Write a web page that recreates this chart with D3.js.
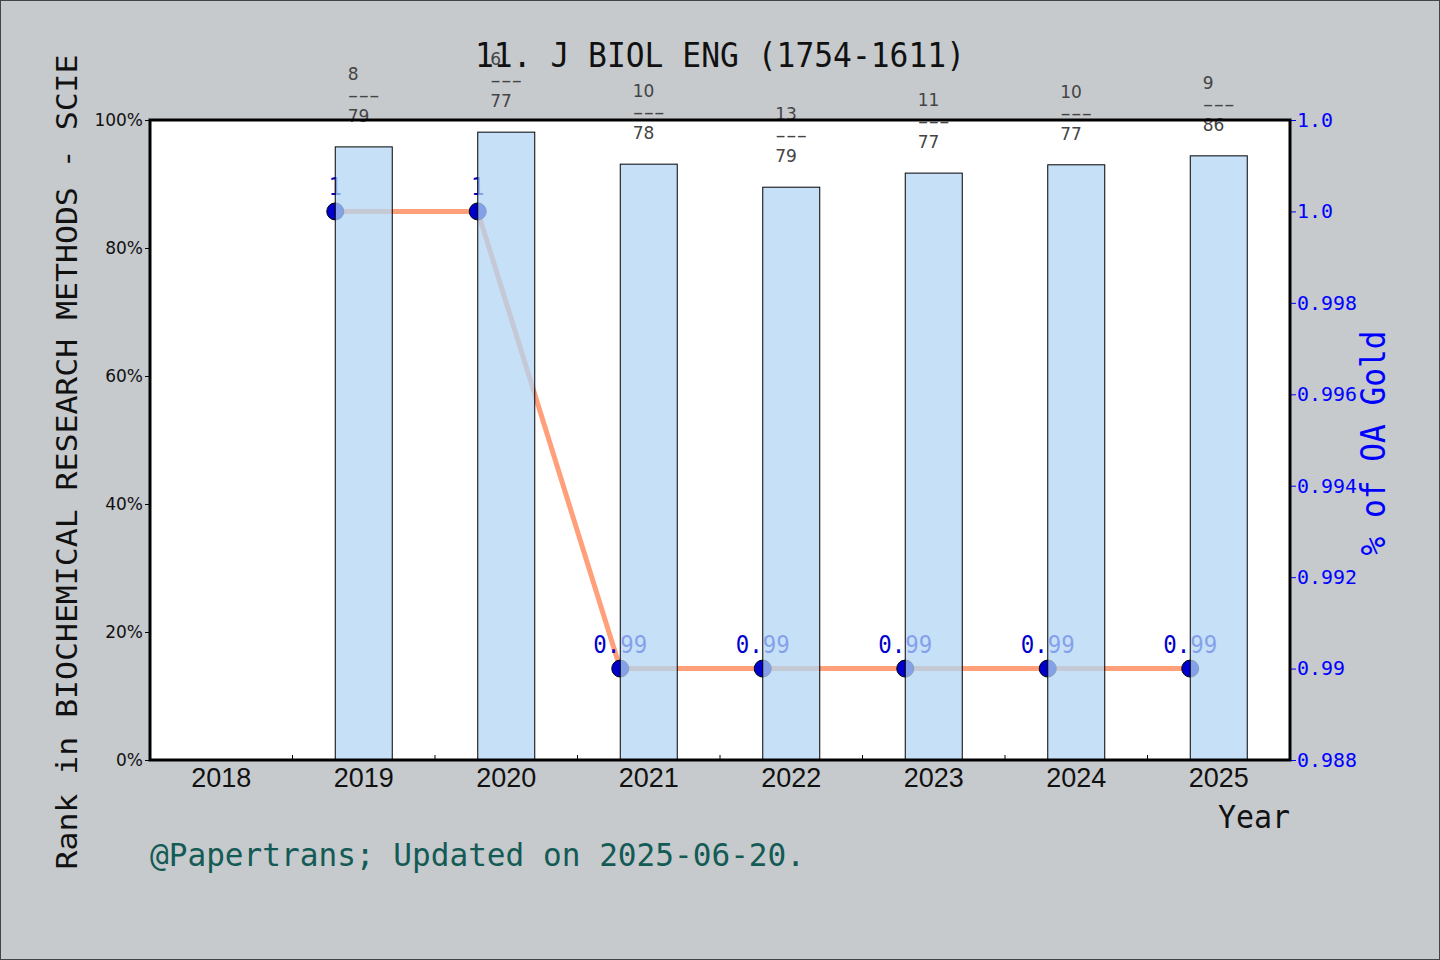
<!DOCTYPE html>
<html>
<head>
<meta charset="utf-8">
<script src="https://cdn.jsdelivr.net/npm/d3@7"></script>
<style>
  body { margin: 0; background: #c6cacd; }
  svg { display: block; }
</style>
</head>
<body>
<div id="chart"><svg></svg></div>
<script>
// chart data
var years = ["2018", "2019", "2020", "2021", "2022", "2023", "2024", "2025"];
var barYears = ["2019", "2020", "2021", "2022", "2023", "2024", "2025"];
var rankPct = [95.8, 98.1, 93.1, 89.5, 91.7, 93.0, 94.4];   // bar heights, % (left axis)
var ranks = [8, 6, 10, 13, 11, 10, 9];
var totals = [79, 77, 78, 79, 77, 77, 86];
var oaGold = [1.0, 1.0, 0.99, 0.99, 0.99, 0.99, 0.99];        // right axis
var oaLabels = ["1", "1", "0.99", "0.99", "0.99", "0.99", "0.99"];
var leftTicks = [0, 20, 40, 60, 80, 100];
var leftTickLabels = ["0%", "20%", "40%", "60%", "80%", "100%"];
var rightTicks = [0.988, 0.990, 0.992, 0.994, 0.996, 0.998, 1.000, 1.002];
var rightTickLabels = ["0.988", "0.99", "0.992", "0.994", "0.996", "0.998", "1.0", "1.0"];

var width = 1440;
var height = 960;
var margins = { left: 150, top: 120, right: 150, bottom: 200 };
var monoFont = "'DejaVu Sans Mono', 'Liberation Mono', monospace";

var xscale = d3.scaleBand()
               .domain(years)
               .range([margins.left, width - margins.right])
               .padding(0);
var barWidth = xscale.bandwidth() * 0.4;
var yleft = d3.scaleLinear()
               .domain([0, 100])
               .range([height - margins.bottom, margins.top]);
var yright = d3.scaleLinear()
               .domain([0.988, 1.002])
               .range([height - margins.bottom, margins.top]);

var svg = d3.select("#chart").select("svg")
               .attr("width", width)
               .attr("height", height);

// background + outer border
svg.append("rect")
     .attr("x", 0.5).attr("y", 0.5)
     .attr("width", width - 1).attr("height", height - 1)
     .attr("fill", "#c6cacd")
     .attr("stroke", "#444")
     .attr("stroke-width", 1);

// plot area
svg.append("rect")
     .attr("x", margins.left).attr("y", margins.top)
     .attr("width", width - margins.left - margins.right)
     .attr("height", height - margins.top - margins.bottom)
     .attr("fill", "#ffffff");

// line points sit on the left edge of each bar
function px(i) { return xscale(barYears[i]) + xscale.bandwidth() / 2 - barWidth / 2; }

var line = d3.line()
               .x(function(d, i) { return px(i); })
               .y(function(d) { return yright(d); });

svg.append("path")
     .datum(oaGold)
     .attr("d", line)
     .attr("fill", "none")
     .attr("stroke", "#ffa07a")
     .attr("stroke-width", 5);

svg.selectAll("circle.pt")
     .data(oaGold)
     .enter().append("circle")
     .attr("class", "pt")
     .attr("cx", function(d, i) { return px(i); })
     .attr("cy", function(d) { return yright(d); })
     .attr("r", 8.5)
     .attr("fill", "#0000cd")
     .attr("stroke", "#000")
     .attr("stroke-width", 1);

svg.selectAll("text.ptlabel")
     .data(oaLabels)
     .enter().append("text")
     .attr("class", "ptlabel")
     .attr("x", function(d, i) { return px(i); })
     .attr("y", function(d, i) { return yright(oaGold[i]) - 16; })
     .attr("text-anchor", "middle")
     .attr("font-family", monoFont)
     .attr("font-size", 24)
     .attr("fill", "#0000cd")
     .attr("textLength", function(d) { return d.length * 13.5; })
     .attr("lengthAdjust", "spacingAndGlyphs")
     .text(function(d) { return d; });

// bars, semi-transparent over the line
svg.selectAll("rect.bar")
     .data(rankPct)
     .enter().append("rect")
     .attr("class", "bar")
     .attr("x", function(d, i) { return xscale(barYears[i]) + xscale.bandwidth() / 2 - barWidth / 2; })
     .attr("y", function(d) { return yleft(d); })
     .attr("width", barWidth)
     .attr("height", function(d) { return yleft(0) - yleft(d); })
     .attr("fill", "#b1d5f4")
     .attr("fill-opacity", 0.75)
     .attr("stroke", "#000")
     .attr("stroke-width", 1);

// rank / total labels above bars
var fracs = svg.selectAll("g.frac")
     .data(rankPct)
     .enter().append("g")
     .attr("class", "frac")
     .attr("transform", function(d, i) {
         return "translate(" + (xscale(barYears[i]) + xscale.bandwidth() / 2 - 16) + "," + (yleft(d) - 25) + ")";
     })
     .attr("font-family", "'DejaVu Sans', sans-serif")
     .attr("font-size", 17)
     .attr("fill", "#444");
fracs.append("text").attr("y", -42).text(function(d, i) { return ranks[i]; });
fracs.append("text").attr("y", -21)
     .attr("textLength", 32).attr("lengthAdjust", "spacingAndGlyphs")
     .text("---");
fracs.append("text").attr("y", 0).text(function(d, i) { return totals[i]; });

// left axis
var leftAxis = d3.axisLeft(yleft)
                 .tickValues(leftTicks)
                 .tickFormat(function(d, i) { return leftTickLabels[i]; })
                 .tickSize(5)
                 .tickPadding(2);
var gl = svg.append("g")
     .attr("transform", "translate(" + margins.left + ",0)")
     .call(leftAxis);
gl.select(".domain").remove();
gl.selectAll("text")
     .attr("font-family", "'DejaVu Sans', sans-serif")
     .attr("font-size", 17)
     .attr("fill", "#111");

// right axis
var rightAxis = d3.axisRight(yright)
                  .tickValues(rightTicks)
                  .tickFormat(function(d, i) { return rightTickLabels[i]; })
                  .tickSize(6)
                  .tickPadding(1);
var gr = svg.append("g")
     .attr("transform", "translate(" + (width - margins.right) + ",0)")
     .call(rightAxis);
gr.select(".domain").remove();
gr.selectAll("line").attr("stroke", "#0000ff");
gr.selectAll("text")
     .attr("font-family", monoFont)
     .attr("font-size", 20)
     .attr("fill", "#0000ff")
     .attr("textLength", function(d, i) { return rightTickLabels[i].length * 12; })
     .attr("lengthAdjust", "spacingAndGlyphs");

// x axis labels
var bottomAxis = d3.axisBottom(xscale).tickSize(0).tickPadding(8);
var gb = svg.append("g")
     .attr("transform", "translate(0," + (height - margins.bottom) + ")")
     .call(bottomAxis);
gb.select(".domain").remove();
gb.selectAll("text")
     .attr("font-family", "'Liberation Sans', Arial, sans-serif")
     .attr("font-size", 27)
     .attr("fill", "#111");

// inner ticks at the band boundaries
svg.selectAll("line.xtick")
     .data(years.slice(1))
     .enter().append("line")
     .attr("class", "xtick")
     .attr("x1", function(d) { return xscale(d); })
     .attr("x2", function(d) { return xscale(d); })
     .attr("y1", height - margins.bottom)
     .attr("y2", height - margins.bottom - 5)
     .attr("stroke", "#000")
     .attr("stroke-width", 1);

// frame
svg.append("rect")
     .attr("x", margins.left).attr("y", margins.top)
     .attr("width", width - margins.left - margins.right)
     .attr("height", height - margins.top - margins.bottom)
     .attr("fill", "none")
     .attr("stroke", "#000")
     .attr("stroke-width", 3);

// titles
svg.append("text")
     .attr("x", 720).attr("y", 67)
     .attr("text-anchor", "middle")
     .attr("font-family", monoFont)
     .attr("font-size", 33)
     .attr("fill", "#111")
     .attr("textLength", 490).attr("lengthAdjust", "spacingAndGlyphs")
     .text("11. J BIOL ENG (1754-1611)");

svg.append("text")
     .attr("transform", "translate(77,462) rotate(-90)")
     .attr("text-anchor", "middle")
     .attr("font-family", monoFont)
     .attr("font-size", 28)
     .attr("fill", "#111")
     .attr("textLength", 815).attr("lengthAdjust", "spacingAndGlyphs")
     .text("Rank in BIOCHEMICAL RESEARCH METHODS - SCIE");

svg.append("text")
     .attr("transform", "translate(1385,443) rotate(-90)")
     .attr("text-anchor", "middle")
     .attr("font-family", monoFont)
     .attr("font-size", 33)
     .attr("fill", "#0000ff")
     .attr("textLength", 225).attr("lengthAdjust", "spacingAndGlyphs")
     .text("% of OA Gold");

svg.append("text")
     .attr("x", 1290).attr("y", 828)
     .attr("text-anchor", "end")
     .attr("font-family", monoFont)
     .attr("font-size", 32)
     .attr("fill", "#111")
     .attr("textLength", 72).attr("lengthAdjust", "spacingAndGlyphs")
     .text("Year");

svg.append("text")
     .attr("x", 150).attr("y", 866)
     .attr("font-family", monoFont)
     .attr("font-size", 32)
     .attr("fill", "#145a55")
     .attr("textLength", 655).attr("lengthAdjust", "spacingAndGlyphs")
     .text("@Papertrans; Updated on 2025-06-20.");
</script>
</body>
</html>
